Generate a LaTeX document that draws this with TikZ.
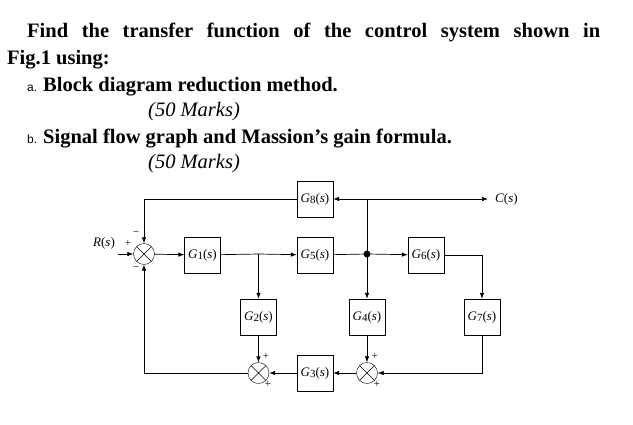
\documentclass[tikz,border=0pt]{standalone}
\usepackage{fontspec}
\usetikzlibrary{arrows.meta}
\setmainfont{Liberation Serif}
\newfontfamily\lsans{Liberation Sans}
\newcommand{\gfn}[1]{\textit{G}\raisebox{-1.5pt}{\fontsize{11}{11}\selectfont #1}(\textit{s})}
\begin{document}
\begin{tikzpicture}[x=1pt,y=-1pt,
  blk/.style={draw,minimum width=36pt,minimum height=36pt,inner sep=0pt,font=\fontsize{13}{13}\selectfont},
  sumj/.style={draw,circle,minimum size=21pt,inner sep=0pt,path picture={\draw (path picture bounding box.north west)--(path picture bounding box.south east) (path picture bounding box.north east)--(path picture bounding box.south west);}},
  ln/.style={draw,line width=0.7pt},
  ar/.style={ln,-{Latex[length=6pt,width=4.5pt]}},
  sg/.style={font=\fontsize{11}{11}\selectfont,inner sep=0pt},
  tt/.style={anchor=base west,inner sep=0pt,font=\fontsize{20.5}{21}\selectfont\bfseries}]
\useasboundingbox (0,0) rectangle (633,424);
\node[tt] (t1) at (27,37) {\makebox[573pt][s]{Find the transfer function of the control system shown in}};
\node[tt] (t2) at (7,64) {Fig.1 using:};
\node[anchor=base west,inner sep=0pt,font=\lsans\fontsize{12}{12}\selectfont] (ta) at (27,91) {a.};
\node[tt] (t3) at (43,91) {Block diagram reduction method.};
\node[anchor=base west,inner sep=0pt,font=\fontsize{20.5}{21}\selectfont\itshape] (t4) at (148,116) {(50 Marks)};
\node[anchor=base west,inner sep=0pt,font=\lsans\fontsize{12}{12}\selectfont] (tb) at (27,143) {b.};
\node[tt] (t5) at (43,143) {Signal flow graph and Massion’s gain formula.};
\node[anchor=base west,inner sep=0pt,font=\fontsize{20.5}{21}\selectfont\itshape] (t6) at (148,168) {(50 Marks)};

\node[sumj] (s1) at (144,254) {};
\node[blk] (g1) at (202.5,255) {\gfn{1}};
\node[blk] (g5) at (315,255) {\gfn{5}};
\node[blk] (g6) at (426,255) {\gfn{6}};
\node[blk] (g8) at (315,199) {\gfn{8}};
\node[blk] (g2) at (258.5,317) {\gfn{2}};
\node[blk] (g4) at (367,317) {\gfn{4}};
\node[blk] (g7) at (482,317) {\gfn{7}};
\node[blk] (g3) at (315,373) {\gfn{3}};
\node[sumj] (s2) at (258.5,373) {};
\node[sumj] (s3) at (367,373) {};
\fill (367,254) circle (3.5pt) coordinate (dot);
\coordinate (rin) at (118,254);
\coordinate (cout) at (488,199);
\coordinate (br) at (258.5,254);
\node[anchor=west,inner sep=1pt,font=\fontsize{13}{13}\selectfont] (rl) at (92,243) {\textit{R}(\textit{s})};
\node[anchor=west,inner sep=1pt,font=\fontsize{13}{13}\selectfont] (cl) at (494,199) {\textit{C}(\textit{s})};

\draw[ar] (rin) -- (s1);
\draw[ar] (s1) -- (g1);
\draw[ln] (g1) -- (br);
\draw[ar] (br) -- (g5);
\draw[ar] (br) -- (g2);
\draw[ln] (g5) -- (dot);
\draw[ar] (dot) -- (g6);
\draw[ar] (g6.east) -| (g7.north);
\draw[ar] (g7.south) |- (s3);
\draw[ar] (dot) -- (g4);
\draw[ln] (dot) -- (367,199);
\draw[ar] (367,199) -- (cout);
\draw[ar] (367,199) -- (g8);
\draw[ar] (g8.west) -| (s1.north);
\draw[ar] (g4) -- (s3);
\draw[ar] (s3) -- (g3);
\draw[ar] (g3) -- (s2);
\draw[ar] (g2) -- (s2);
\draw[ar] (s2.west) -| (s1.south);

\node[sg] (p1) at (128,243) {+};
\node[sg] (m1) at (136,234) {\textminus};
\node[sg] (m2) at (136,269) {\textminus};
\node[sg] (p2) at (266,356) {+};
\node[sg] (p3) at (268,384) {+};
\node[sg] (p4) at (375,356) {+};
\node[sg] (p5) at (377,384) {+};
\end{tikzpicture}
\end{document}
